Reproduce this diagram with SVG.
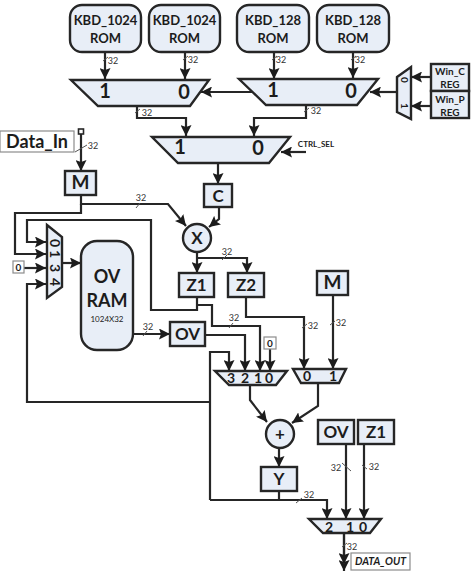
<svg xmlns="http://www.w3.org/2000/svg" width="474" height="583" viewBox="0 0 474 583">
<style>
text{font-family:Lato,"Open Sans","Liberation Sans",sans-serif;font-weight:700;fill:#1c1c1c;text-anchor:middle}
.b{fill:#e8eef7;stroke:#262626;stroke-width:2.4}
.g{fill:#fff;stroke:#8c8c8c;stroke-width:1.2}
.w{fill:none;stroke:#262626;stroke-width:2.2;stroke-linejoin:miter}
.a{marker-end:url(#ah)}
.t{fill:none;stroke:#555;stroke-width:1}
.l{font-size:9px;font-weight:400;fill:#333}
.rom{font-size:13px}
.big{font-size:18px}
.mid{font-size:17px}
.m{font-size:20px}
.s{font-size:14px}
.r{font-size:10px}
</style>
<defs>
<marker id="ah" markerUnits="userSpaceOnUse" markerWidth="12" markerHeight="11" refX="11" refY="5.500" orient="auto"><path d="M0 0L11 5.500L0 11L2 5.500Z" fill="#1c1c1c"/></marker>
</defs>
<rect width="474" height="583" fill="#fff"/>
<g id="connectors">
<path class="w a" d="M105 52V79"/>
<path class="w a" d="M185 52V79"/>
<path class="w a" d="M274 52V79"/>
<path class="w a" d="M353 52V78"/>
<path class="w a" d="M253 92H201"/>
<path class="w a" d="M397 92H370"/>
<path class="w a" d="M431 77H411"/>
<path class="w a" d="M431 106H411"/>
<path class="w a" d="M137 106V118H186V136"/>
<path class="w a" d="M306 105V118H254V136"/>
<path class="w a" d="M306 152H281"/>
<path class="w a" d="M218 163V184"/>
<path class="w a" d="M81 134V171"/>
<path class="w a" d="M81 195V204H168L186 226"/>
<path class="w a" d="M81 204V213H15V254H46"/>
<path class="w a" d="M219 207V219L209 227"/>
<path class="w a" d="M197 252V273"/>
<path class="w a" d="M197 258H247V273"/>
<path class="w a" d="M197 297V310H151V220H27V242H46"/>
<path class="w a" d="M197 305H212V326H260V371"/>
<path class="w a" d="M205 335H245V371"/>
<path class="w a" d="M270 349V371"/>
<path class="w a" d="M246 297V317H304V369"/>
<path class="w a" d="M333 295V369"/>
<path class="w a" d="M62 263H81"/>
<path class="w a" d="M24 268H46"/>
<path class="w a" d="M133 334H170"/>
<path class="w a" d="M210 500V352H229V371"/>
<path class="w a" d="M210 402H27V284H46"/>
<path class="w" d="M279 491V500"/>
<path class="w a" d="M210 500H327V519"/>
<path class="w a" d="M250 385V400L267 422"/>
<path class="w a" d="M318 383V406L292 423"/>
<path class="w a" d="M279 448V467"/>
<path class="w a" d="M346 444V519"/>
<path class="w a" d="M364 444V519"/>
<path class="w a" d="M344 533V571"/>
<path class="w a" d="M344 533V564"/>
<path class="t" d="M75 152L87 145M103 61L108 57M183 60L188 56M272 60L277 56M351 60L356 56M135 113L140 109M304 112L309 108M136 208L140 203M222 260L227 255M229 328L233 323M143 336L147 331M302 328L307 324M330 325L335 321M296 503L302 498M342 463L351 471M362 465L367 469M342 547L347 543"/>
<g>
<text class="l" x="113" y="64">32</text>
<text class="l" x="193" y="63">32</text>
<text class="l" x="281" y="63">32</text>
<text class="l" x="360" y="63">32</text>
<text class="l" x="147" y="116">32</text>
<text class="l" x="316" y="114">32</text>
<text class="l" x="93" y="149">32</text>
<text class="l" x="141" y="201">32</text>
<text class="l" x="227" y="255">32</text>
<text class="l" x="234" y="321">32</text>
<text class="l" x="148" y="330">32</text>
<text class="l" x="313" y="329">32</text>
<text class="l" x="341" y="326">32</text>
<text class="l" x="309" y="498">32</text>
<text class="l" x="336" y="471">32</text>
<text class="l" x="374" y="470">32</text>
<text class="l" x="352" y="550">32</text>
</g>
</g>
<g id="rom1"><rect class="b" x="70" y="5" width="71" height="47" rx="12"/><text class="rom" x="105.500" y="25">KBD_1024</text><text class="rom" x="105.500" y="43">ROM</text></g>
<g id="rom2"><rect class="b" x="149" y="5" width="71" height="47" rx="12"/><text class="rom" x="184.500" y="25">KBD_1024</text><text class="rom" x="184.500" y="43">ROM</text></g>
<g id="rom3"><rect class="b" x="237" y="5" width="72" height="47" rx="12"/><text class="rom" x="273" y="25">KBD_128</text><text class="rom" x="273" y="43">ROM</text></g>
<g id="rom4"><rect class="b" x="317" y="5" width="72" height="47" rx="12"/><text class="rom" x="353" y="25">KBD_128</text><text class="rom" x="353" y="43">ROM</text></g>
<g id="mux1"><path class="b" d="M71 80H209L190 106H98Z"/><text class="m" x="105" y="98">1</text><text class="m" x="184" y="99">0</text></g>
<g id="mux2"><path class="b" d="M239 79H378L357 105H266Z"/><text class="m" x="273" y="97">1</text><text class="m" x="351" y="98">0</text></g>
<g id="mux3"><path class="b" d="M152 137H290L269 163H178Z"/><text class="m" x="180" y="154">1</text><text class="m" x="258" y="155">0</text></g>
<g id="win-mux"><path class="b" d="M397 77L411 67V119L397 112Z"/><text class="r" transform="translate(401 80) rotate(90)">0</text><text class="r" transform="translate(401 106) rotate(90)">1</text></g>
<g id="win-c"><rect class="b" x="431" y="64" width="38" height="27"/><text class="r" x="450" y="75">Win_C</text><text class="r" x="450" y="88">REG</text></g>
<g id="win-p"><rect class="b" x="431" y="91" width="38" height="27"/><text class="r" x="450" y="102.500">Win_P</text><text class="r" x="450" y="115.500">REG</text></g>
<g id="ctrl-sel"><text x="316" y="147" style="font-size:8px">CTRL_SEL</text></g>
<g id="data-in"><rect class="g" x="0" y="131" width="74" height="21"/><text x="37" y="148" style="font-size:18px">Data_In</text></g>
<g id="data-port"><rect x="78.500" y="129" width="5" height="5" fill="#fff" stroke="#262626" stroke-width="1.600"/></g>
<g id="m1"><rect class="b" x="65" y="171" width="31" height="24"/><text class="mid" x="80.500" y="189" style="font-size:19px">M</text></g>
<g id="c"><rect class="b" x="204" y="184" width="28" height="23"/><text class="mid" x="218" y="202">C</text></g>
<g id="x"><circle class="b" cx="197" cy="238" r="14"/><text class="mid" x="197" y="244">X</text></g>
<g id="z1"><rect class="b" x="179" y="273" width="35" height="24"/><text class="mid" x="196.500" y="291">Z1</text></g>
<g id="z2"><rect class="b" x="228" y="273" width="36" height="24"/><text class="mid" x="246" y="291">Z2</text></g>
<g id="m2"><rect class="b" x="317" y="271" width="31" height="24"/><text class="mid" x="332.500" y="289" style="font-size:19px">M</text></g>
<g id="left-mux"><path class="b" d="M47 225L62 237V287L47 298Z"/><text class="s" transform="translate(50 243) rotate(90)">0</text><text class="s" transform="translate(50 254) rotate(90)">1</text><text class="s" transform="translate(50 268) rotate(90)">3</text><text class="s" transform="translate(50 282) rotate(90)">4</text></g>
<g id="zero1"><rect class="g" x="13" y="261" width="11" height="12"/><text class="r" x="18.500" y="271">0</text></g>
<g id="ov-ram"><rect class="b" x="81" y="241" width="52" height="109" rx="16"/><text class="big" x="107" y="283">OV</text><text class="big" x="107" y="307">RAM</text><text x="107" y="322" style="font-size:8px;font-weight:400">1024X32</text></g>
<g id="ov1"><rect class="b" x="170" y="322" width="35" height="24"/><text class="mid" x="187.500" y="340">OV</text></g>
<g id="zero2"><rect class="g" x="264" y="337" width="12" height="12"/><text class="r" x="270" y="347">0</text></g>
<g id="mux4"><path class="b" d="M215 371H287L276 385H229Z"/><text class="s" x="231" y="383">3</text><text class="s" x="245" y="383">2</text><text class="s" x="258" y="383">1</text><text class="s" x="269" y="383">0</text></g>
<g id="mux5"><path class="b" d="M293 369H346L339 383H301Z"/><text class="s" x="307" y="381">0</text><text class="s" x="333" y="381">1</text></g>
<g id="plus"><circle class="b" cx="280" cy="434" r="14"/><text class="mid" x="280" y="440">+</text></g>
<g id="y"><rect class="b" x="261" y="467" width="36" height="24"/><text class="mid" x="279" y="485">Y</text></g>
<g id="ov2"><rect class="b" x="318" y="420" width="36" height="24"/><text class="mid" x="336" y="438">OV</text></g>
<g id="z1b"><rect class="b" x="358" y="420" width="36" height="24"/><text class="mid" x="376" y="438">Z1</text></g>
<g id="mux6"><path class="b" d="M309 519H381L370 533H323Z"/><text class="s" x="329" y="532">2</text><text class="s" x="350" y="532">1</text><text class="s" x="363" y="532">0</text></g>
<g id="data-out"><rect class="g" x="351" y="553" width="59" height="17"/><text x="380.500" y="565" style="font-size:10.500px;font-style:italic">DATA_OUT</text></g>
</svg>
